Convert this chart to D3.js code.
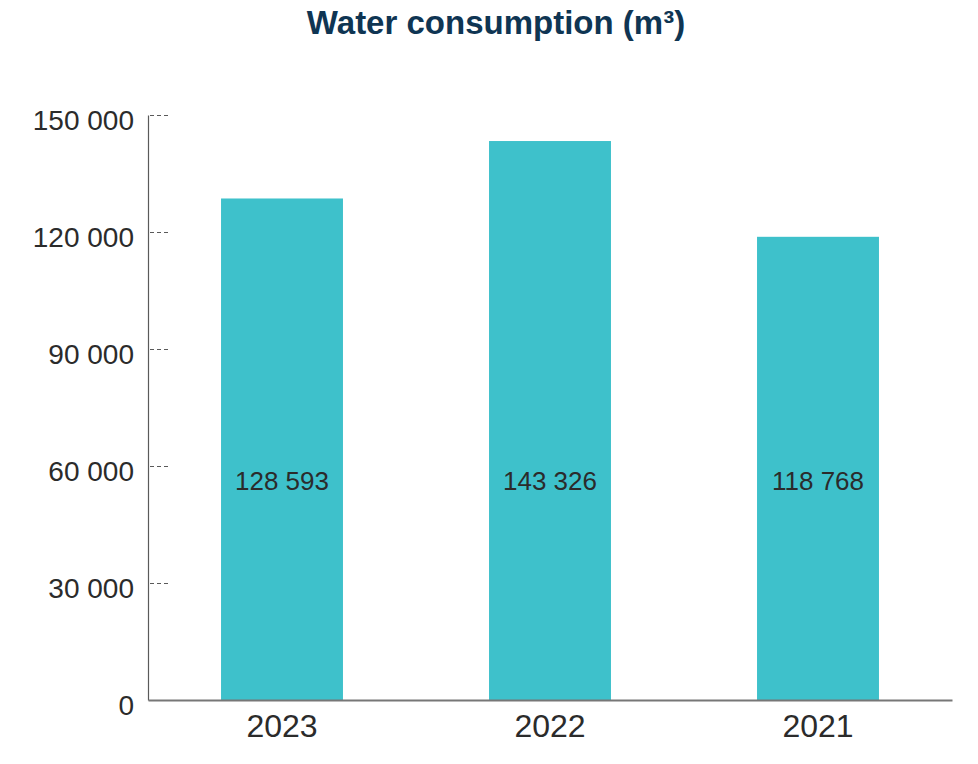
<!DOCTYPE html>
<html>
<head>
<meta charset="utf-8">
<script src="https://cdn.jsdelivr.net/npm/d3@7"></script>
<style>
  body { margin: 0; background: #fff; }
  text { font-family: "Liberation Sans", Arial, sans-serif; }
</style>
</head>
<body>
<div id="chart"></div>
<script>
// data
const years = ["2023", "2022", "2021"];
const consumption = [128593, 143326, 118768];
const yTicks = [0, 30000, 60000, 90000, 120000, 150000];
const labelAt = 55000; // value labels sit at a fixed height

const width = 978, height = 764;
const margin = {top: 115, right: 26, bottom: 64, left: 148};

const svg = d3.select("#chart")
    .append("svg")
    .attr("width", width)
    .attr("height", height);

const fmt = v => d3.format(",")(v).replace(/,/g, " ");

// scales
const x = d3.scaleBand()
    .domain(years)
    .range([margin.left, width - margin.right])
    .paddingInner(0.545)
    .paddingOuter(0.2725);

const y = d3.scaleLinear()
    .domain([0, 150000])
    .range([height - margin.bottom, margin.top]);

// title
svg.append("text")
    .attr("x", 496)
    .attr("y", 34)
    .attr("text-anchor", "middle")
    .style("font-size", "33px")
    .style("font-weight", "bold")
    .style("fill", "#0f3553")
    .text("Water consumption (m³)");

// bars
svg.selectAll("rect.bar")
    .data(years)
    .join("rect")
    .attr("class", "bar")
    .attr("x", d => x(d))
    .attr("y", (d, i) => y(consumption[i]))
    .attr("width", x.bandwidth())
    .attr("height", (d, i) => y(0) - y(consumption[i]))
    .style("fill", "#3ec1cb");

// value labels
svg.selectAll("text.val")
    .data(years)
    .join("text")
    .attr("class", "val")
    .attr("x", d => x(d) + x.bandwidth() / 2)
    .attr("y", y(labelAt))
    .attr("text-anchor", "middle")
    .attr("dy", "0.18em")
    .style("font-size", "26px")
    .style("fill", "#2b2b2b")
    .text((d, i) => fmt(consumption[i]));

// y axis
const yAxis = svg.append("g")
    .attr("transform", `translate(${margin.left},0)`)
    .call(d3.axisLeft(y).tickValues(yTicks).tickFormat(fmt).tickSize(0).tickPadding(14));
yAxis.select(".domain").attr("stroke", "#5a5a5a").attr("stroke-width", 1.2);
yAxis.selectAll(".tick text")
    .attr("dy", "0.5em")
    .style("font-size", "28px")
    .style("fill", "#2b2b2b");
yAxis.selectAll(".tick")
    .filter(d => d > 0)
    .append("line")
    .attr("x1", 2)
    .attr("x2", 20)
    .attr("stroke", "#5a5a5a")
    .attr("stroke-dasharray", "4,3");

// x axis
const xAxis = svg.append("g")
    .attr("transform", `translate(0,${y(0)})`)
    .call(d3.axisBottom(x).tickSize(0).tickPadding(10));
xAxis.select(".domain").attr("stroke", "#777").attr("stroke-width", 2);
xAxis.selectAll(".tick text")
    .attr("dy", "0.85em")
    .style("font-size", "32px")
    .style("fill", "#2b2b2b");
</script>
</body>
</html>
